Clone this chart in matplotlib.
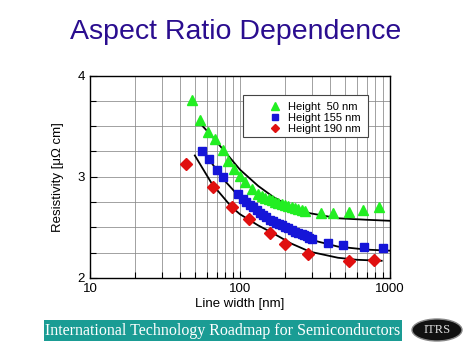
import matplotlib
matplotlib.use("Agg")
import matplotlib.pyplot as plt
from matplotlib.patches import Rectangle, Ellipse
from matplotlib.ticker import FixedLocator, NullFormatter, FixedFormatter

# ---- data ----
green_x = [48, 54, 61.5, 68, 77, 83.6, 91, 100, 108, 120, 132, 140, 147, 155, 163, 172,
           180, 190, 200, 210, 221, 233, 245, 258, 271, 345, 419, 535, 664, 849]
green_y = [3.76, 3.56, 3.44, 3.37, 3.26, 3.16, 3.08, 3.01, 2.95, 2.88, 2.83, 2.81, 2.79,
           2.78, 2.77, 2.755, 2.74, 2.73, 2.72, 2.71, 2.70, 2.69, 2.68, 2.67, 2.66,
           2.64, 2.64, 2.65, 2.67, 2.70]

blue_x = [55.5, 62, 70, 76.6, 97.5, 105, 110, 117, 123, 129, 136, 143, 150, 158, 166, 175,
          182, 190, 200, 210, 221, 233, 245, 258, 268, 278, 289, 300, 388, 488, 674, 894]
blue_y = [3.25, 3.18, 3.07, 3.00, 2.83, 2.78, 2.75, 2.72, 2.70, 2.67, 2.645, 2.62, 2.60,
          2.57, 2.56, 2.54, 2.53, 2.52, 2.50, 2.49, 2.47, 2.45, 2.44, 2.43, 2.42, 2.41,
          2.40, 2.39, 2.35, 2.33, 2.31, 2.30]

red_x = [43.7, 66.4, 88.9, 115, 158, 200, 286, 535, 785]
red_y = [3.13, 2.90, 2.70, 2.58, 2.44, 2.34, 2.24, 2.17, 2.18]

fit_green_x = [54, 65, 77, 100, 132, 167, 220, 292, 450, 700, 1000]
fit_green_y = [3.53, 3.40, 3.27, 3.07, 2.91, 2.80, 2.70, 2.64, 2.59, 2.575, 2.565]

fit_blue_x = [57, 77, 105, 132, 167, 220, 292, 450, 700, 1000]
fit_blue_y = [3.25, 2.98, 2.76, 2.64, 2.55, 2.45, 2.38, 2.31, 2.28, 2.27]

fit_red_x = [50, 65, 88, 100, 132, 167, 220, 292, 450, 600, 880]
fit_red_y = [3.21, 2.93, 2.70, 2.63, 2.52, 2.44, 2.34, 2.26, 2.20, 2.18, 2.17]

labels = ["Height  50 nm", "Height 155 nm", "Height 190 nm"]
ytick_vals = [2, 3, 4]
xtick_vals = [10, 100, 1000]

plt.rcParams['font.family'] = ['Liberation Sans', 'DejaVu Sans']

W, H = 474, 355
fig = plt.figure(figsize=(4.74, 3.55), dpi=100)
fig.patch.set_facecolor('white')
ax = fig.add_axes([90/W, 1-278/H, 300/W, 202.5/H])

ax.set_xscale('log')
ax.set_xlim(10, 1000)
ax.set_ylim(2, 4)

# grid
ax.yaxis.set_major_locator(FixedLocator(ytick_vals))
ax.yaxis.set_minor_locator(FixedLocator([2.25, 2.5, 2.75, 3.25, 3.5, 3.75]))
ax.yaxis.set_major_formatter(FixedFormatter([str(v) for v in ytick_vals]))
ax.xaxis.set_major_locator(FixedLocator(xtick_vals))
ax.xaxis.set_major_formatter(FixedFormatter([str(v) for v in xtick_vals]))
ax.xaxis.set_minor_formatter(NullFormatter())
ax.grid(True, which='both', color='#888888', linewidth=0.55)
ax.set_axisbelow(True)

ax.tick_params(which='both', direction='in', top=False, right=False, labelsize=9.5,
               width=0.8)
ax.tick_params(which='major', length=5)
ax.tick_params(which='minor', length=4)
for s in ax.spines.values():
    s.set_linewidth(1.0)
    s.set_color('black')

# fits
ax.plot(fit_green_x, fit_green_y, color='black', lw=1.3, zorder=3)
ax.plot(fit_blue_x, fit_blue_y, color='black', lw=1.3, zorder=3)
ax.plot(fit_red_x, fit_red_y, color='black', lw=1.3, zorder=3)

# data
ax.plot(green_x, green_y, ls='none', marker='^', ms=7, color='#22ee22', mec='#22ee22',
        label=labels[0], zorder=4)
ax.plot(blue_x, blue_y, ls='none', marker='s', ms=6, color='#1515d8', mec='#1515d8',
        label=labels[1], zorder=4)
ax.plot(red_x, red_y, ls='none', marker='D', ms=6, color='#e01010', mec='#e01010',
        label=labels[2], zorder=4)

# legend box drawn separately, legend entries without frame
box = Rectangle((243/W, 1-137/H), 125/W, 42/H, transform=fig.transFigure,
                facecolor='white', edgecolor='#444444', lw=0.8, zorder=5)
ax.add_artist(box)
box.set_clip_on(False)
leg = ax.legend(loc='upper left', bbox_to_anchor=(267/W, 1-101.5/H),
                bbox_transform=fig.transFigure, borderaxespad=0, borderpad=0,
                fontsize=8, frameon=False, handlelength=1.45, handletextpad=0.45,
                labelspacing=0.1, markerscale=0.75)
leg.set_zorder(6)

ax.set_xlabel("Line width [nm]", fontsize=9.5, labelpad=2)
ax.set_ylabel("Resistivity [\u03bc\u03a9 cm]", fontsize=9.5, labelpad=10)

# title
fig.text(236/W, 1-32/H, "Aspect Ratio Dependence", ha='center', va='center',
         fontsize=20.5, color='#2a0d8f')

# bottom banner
fig.patches.append(Rectangle((44/W, 1-341/H), 358/W, 21/H,
                             transform=fig.transFigure, facecolor='#1a9c94',
                             edgecolor='none'))
fig.text(223/W, 1-331/H, "International Technology Roadmap for Semiconductors",
         ha='center', va='center', fontsize=11.5, color='white',
         family=['Liberation Serif', 'DejaVu Serif'])
fig.patches.append(Ellipse((437/W, 1-330/H), 50/W, 22/H,
                           transform=fig.transFigure, facecolor='#111111',
                           edgecolor='#888888', lw=1.0))
fig.text(437/W, 1-330/H, "ITRS", ha='center', va='center', fontsize=9,
         color='#dddddd', family=['Liberation Serif', 'DejaVu Serif'])

fig.savefig("out.png", dpi=100)
